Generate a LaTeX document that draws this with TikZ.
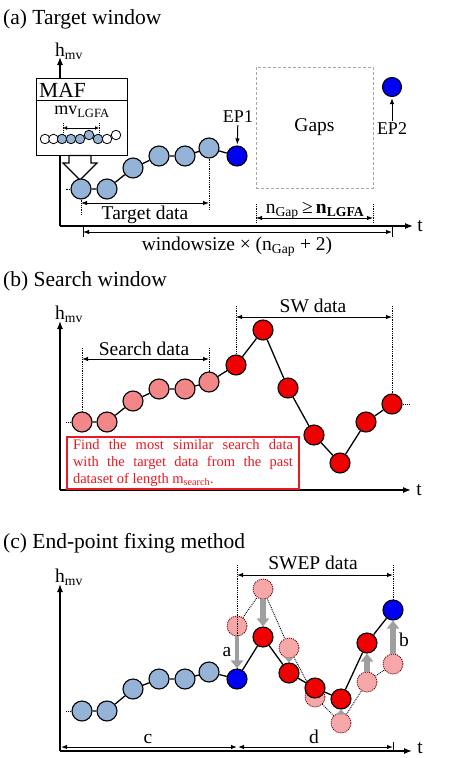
\documentclass[tikz,border=0pt]{standalone}
\usepackage{fontspec}
\setmainfont{Liberation Serif}
\usetikzlibrary{arrows.meta}
\definecolor{lblue}{RGB}{149,179,215}
\definecolor{dblue}{RGB}{0,0,245}
\definecolor{pinkc}{RGB}{242,135,135}
\definecolor{lpink}{RGB}{246,168,168}
\definecolor{redc}{RGB}{240,0,0}
\definecolor{boxred}{RGB}{232,25,35}
\begin{document}
\begin{tikzpicture}[x=1pt,y=-1pt,
  >={Latex[length=6pt,width=4.5pt]},
  circ/.style={circle, draw=black, line width=1.1pt, minimum size=20pt, inner sep=0pt},
  bdot/.style={circ, fill=lblue},
  ddot/.style={circ, fill=dblue},
  pdot/.style={circ, fill=pinkc},
  rdot/.style={circ, fill=redc},
  ghost/.style={circ, fill=lpink, draw=black!60!red, densely dotted, line width=0.8pt},
  sdot/.style={circle, draw=black, line width=0.8pt, minimum size=9.5pt, inner sep=0pt},
  link/.style={line width=1.3pt},
  ghostline/.style={densely dotted, line width=0.9pt},
  vtick/.style={densely dotted, line width=0.8pt},
  axisline/.style={line width=1.3pt, -{Latex[length=8pt,width=6pt]}},
  dimarrow/.style={line width=1pt, <->},
  onearrow/.style={line width=1pt, ->},
  lab/.style={font=\fontsize{19.5}{22}\selectfont, inner sep=0pt},
  eplab/.style={font=\fontsize{18}{21}\selectfont, inner sep=0pt},
  ttl/.style={font=\fontsize{21.5}{25}\selectfont, inner sep=0pt, anchor=base west},
  garrow/.style={line width=5.5pt, draw=gray!75, -{Triangle[length=8pt,width=12pt]}},
  gsmall/.style={line width=3pt, draw=gray!75, -{Triangle[length=5pt,width=9pt]}},
]
\useasboundingbox (0,0) rectangle (474,758);

%%%%%%%%%%%%%%%% (a) %%%%%%%%%%%%%%%%
\node[ttl] (ttlA) at (3,24) {(a) Target window};
\coordinate (oA) at (60,226);
\coordinate (yA) at (60,57);
\coordinate (xA) at (413,226);
\draw[axisline] (oA) -- (yA);
\draw[axisline] (oA) -- (xA);
\node[lab] (tA) at (420,226) {t};
\node[lab] (hA) at (69,51) {h\textsubscript{mv}};

% MAF box
\node[draw, line width=1.2pt, fill=white, minimum width=91pt, minimum height=77pt, inner sep=0pt] (maf) at (82,117) {};
\coordinate (mafdl) at (36.5,100);
\coordinate (mafdr) at (127.5,100);
\draw[line width=1pt] (mafdl) -- (mafdr);
\node[anchor=west, inner sep=0pt, font=\fontsize{21.5}{24}\selectfont] (maft) at (39,90) {MAF};
\node[inner sep=0pt, font=\fontsize{18}{21}\selectfont] (mvt) at (82,112) {mv\textsubscript{LGFA}};
\coordinate (mt1) at (63,123);
\coordinate (mt1b) at (63,137);
\coordinate (mt2) at (99,123);
\coordinate (mt2b) at (99,137);
\draw[vtick] (mt1) -- (mt1b);
\draw[vtick] (mt2) -- (mt2b);
\coordinate (ma1) at (63,128);
\coordinate (ma2) at (99,128);
\draw[line width=0.9pt, {Latex[length=4pt,width=4pt]}-{Latex[length=4pt,width=4pt]}] (ma1) -- (ma2);
\foreach \i/\x/\y/\c in {1/45/139/white, 2/53.5/139/white, 3/62/139/lblue, 4/71/139/lblue, 5/80/139/lblue, 6/89/135/lblue, 7/98/139/lblue, 8/107/139/white, 9/116/135/white}
  \node[sdot, fill=\c] (m\i) at (\x,\y) {};
% hollow block arrow from the MAF box
\draw[line width=1.2pt, fill=white, line join=miter] (69,155.5) -- (69,163) -- (63,163) -- (80,180) -- (97,163) -- (91,163) -- (91,155.5) -- cycle;

% target data points
\node[bdot] (a1) at (81,189) {};
\node[bdot] (a2) at (107,189) {};
\node[bdot] (a3) at (133,168) {};
\node[bdot] (a4) at (159,156) {};
\node[bdot] (a5) at (185,156) {};
\node[bdot] (a6) at (209,148) {};
\node[ddot] (ep1) at (237,156) {};
\draw[link] (a1) -- (a2) -- (a3) -- (a4) -- (a5) -- (a6) -- (ep1);
\coordinate (a0) at (66,189);
\draw[vtick, line width=1pt] (a1.west) -- (a0);

\node[eplab] (ep1l) at (238,117) {EP1};
\draw[onearrow, shorten <=2pt, shorten >=1pt] (ep1l) -- (ep1);

\node[draw=gray!70, dash pattern=on 3pt off 2pt, line width=1pt, minimum width=117pt, minimum height=121pt, inner sep=0pt, font=\fontsize{19.5}{22}\selectfont] (gaps) at (314.5,127.5) {Gaps};

\node[circ, fill=dblue, minimum size=19pt] (ep2) at (392,87) {};
\node[eplab] (ep2l) at (392,129) {EP2};
\draw[onearrow, shorten <=2pt, shorten >=1pt] (ep2l) -- (ep2);

% n_Gap >= n_LGFA
\coordinate (ng1) at (256,204);
\coordinate (ng1b) at (256,223);
\coordinate (ng2) at (373,204);
\coordinate (ng2b) at (373,223);
\draw[vtick] (ng1) -- (ng1b);
\draw[vtick] (ng2) -- (ng2b);
\coordinate (nga) at (256,218);
\coordinate (ngb) at (373,218);
\draw[dimarrow] (nga) -- (ngb);
\node[lab, anchor=base] (ngt) at (315,213) {n\textsubscript{Gap}\,≥\,\textbf{n\textsubscript{LGFA}}};

% target data span
\coordinate (td1) at (81,214);
\coordinate (td2) at (209,210);
\draw[vtick] (a1.south) -- (td1);
\draw[vtick] (a6.south) -- (td2);
\coordinate (tda) at (81,203);
\coordinate (tdb) at (209,203);
\draw[dimarrow] (tda) -- (tdb);
\node[lab, anchor=base] (tdt) at (145,219) {Target data};

% window size span
\coordinate (ws1) at (83,232);
\coordinate (ws2) at (392,232);
\draw[dimarrow] (ws1) -- (ws2);
\draw[line width=1pt] (ws1) ++(0,-5) -- ++(0,10);
\draw[line width=1pt] (ws2) ++(0,-5) -- ++(0,10);
\node[lab, anchor=base] (wst) at (237,250) {windowsize × (n\textsubscript{Gap} + 2)};

%%%%%%%%%%%%%%%% (b) %%%%%%%%%%%%%%%%
\node[ttl] (ttlB) at (3,286) {(b) Search window};
\coordinate (oB) at (60,490);
\coordinate (yB) at (60,321);
\coordinate (xB) at (411,490);
\draw[axisline] (oB) -- (yB);
\draw[axisline] (oB) -- (xB);
\node[lab] (tB) at (419,490) {t};
\node[lab] (hB) at (69,314) {h\textsubscript{mv}};

\node[draw=boxred, line width=1.3pt, text=boxred, fill=white, text width=220pt, align=justify, inner xsep=6pt, inner ysep=0pt, minimum height=52pt, font=\fontsize{14.5}{17}\selectfont] (note) at (183,463)
 {Find the most similar search data\linebreak with the target data from the past\linebreak dataset of length m\textsubscript{search}.};

\node[pdot] (p1) at (82,422) {};
\node[pdot] (p2) at (107,422) {};
\node[pdot] (p3) at (133,401) {};
\node[pdot] (p4) at (159,389) {};
\node[pdot] (p5) at (185,389) {};
\node[pdot] (p6) at (209,382) {};
\node[rdot] (r1) at (236,365) {};
\node[rdot] (r2) at (263,330) {};
\node[rdot] (r3) at (288,388) {};
\node[rdot] (r4) at (314,435) {};
\node[rdot] (r5) at (340,463) {};
\node[rdot] (r6) at (366,422) {};
\node[rdot] (r7) at (392,404) {};
\draw[link] (p1) -- (p2) -- (p3) -- (p4) -- (p5) -- (p6) -- (r1) -- (r2) -- (r3) -- (r4) -- (r5) -- (r6) -- (r7);
\coordinate (p0) at (66,422);
\coordinate (r8) at (409,404);
\draw[vtick, line width=1pt] (p1.west) -- (p0);
\draw[vtick, line width=1pt] (r7.east) -- (r8);

% search data span
\coordinate (sd1) at (82,348);
\coordinate (sd2) at (209,348);
\draw[vtick] (sd1) -- (p1.north);
\draw[vtick] (sd2) -- (p6.north);
\coordinate (sda) at (82,359);
\coordinate (sdb) at (209,359);
\draw[dimarrow] (sda) -- (sdb);
\node[lab, anchor=base] (sdt) at (144,355) {Search data};

% SW data span
\coordinate (sw1) at (236,306);
\coordinate (sw2) at (392,306);
\draw[vtick] (sw1) -- (r1.north);
\draw[vtick] (sw2) -- (r7.north);
\coordinate (swa) at (236,317);
\coordinate (swb) at (392,317);
\draw[dimarrow] (swa) -- (swb);
\node[lab, anchor=base] (swt) at (313,312) {SW data};

%%%%%%%%%%%%%%%% (c) %%%%%%%%%%%%%%%%
\node[ttl] (ttlC) at (3,548) {(c) End-point fixing method};
\coordinate (oC) at (60,751);
\coordinate (yC) at (60,584);
\coordinate (xC) at (412,751);
\draw[axisline] (oC) -- (yC);
\draw[axisline] (oC) -- (xC);
\node[lab] (tC) at (420,748) {t};
\node[lab] (hC) at (69,577) {h\textsubscript{mv}};

\node[bdot] (c1) at (82,711) {};
\node[bdot] (c2) at (107,711) {};
\node[bdot] (c3) at (133,689) {};
\node[bdot] (c4) at (159,679) {};
\node[bdot] (c5) at (185,679) {};
\node[bdot] (c6) at (209,672) {};
\coordinate (c0) at (66,711);
\draw[vtick, line width=1pt] (c1.west) -- (c0);

% ghost (original SW) points
\node[ghost] (g1) at (237,626) {};
\node[ghost] (g2) at (263,589) {};
\node[ghost] (g3) at (289,648) {};
\node[ghost] (g4) at (315,697) {};
\node[ghost] (g5) at (341,723) {};
\node[ghost] (g6) at (367,682) {};
\node[ghost] (g7) at (393,664) {};
\draw[ghostline] (g1) -- (g2) -- (g3) -- (g4) -- (g5) -- (g6) -- (g7);

% SWEP span
\coordinate (se1) at (237,565);
\coordinate (se2) at (393,565);
\coordinate (sea) at (237,575);
\coordinate (seb) at (393,575);
\draw[dimarrow] (sea) -- (seb);
\node[lab, anchor=base] (set) at (313,569) {SWEP data};

% fixed points
\node[ddot] (e1) at (237,679) {};
\node[rdot] (s2) at (263,637) {};
\node[rdot] (s3) at (289,673) {};
\node[rdot] (s4) at (315,688) {};
\node[rdot] (s5) at (341,699) {};
\node[rdot] (s6) at (367,643) {};
\node[ddot] (e2) at (393,610) {};
\draw[vtick] (se1) -- (e1.north);
\draw[vtick] (se2) -- (e2.north);
\draw[link] (c1) -- (c2) -- (c3) -- (c4) -- (c5) -- (c6) -- (e1) -- (s2) -- (s3) -- (s4) -- (s5) -- (s6) -- (e2);

% shift arrows
\draw[garrow, line width=4.5pt] (g1) -- (e1);
\draw[garrow] (g2) -- (s2);
\draw[gsmall] (g3) -- (s3);
\draw[gsmall] (g5) -- (s5);
\draw[garrow] (g6) -- (s6);
\draw[garrow] (g7) -- (e2);
\node[lab] (la) at (227,652) {a};
\node[lab] (lb) at (404,640) {b};

% c / d spans
\coordinate (cd0) at (61,747);
\coordinate (cd1) at (237,747);
\coordinate (cd1b) at (238,747);
\coordinate (cd2) at (393,747);
\draw[dimarrow] (cd0) -- (cd1);
\draw[dimarrow] (cd1b) -- (cd2);
\draw[line width=1pt] (cd2) ++(0,-5) -- ++(0,9);
\node[lab, anchor=base] (lc) at (148,743) {c};
\node[lab, anchor=base] (ld) at (314,743) {d};
\end{tikzpicture}
\end{document}
